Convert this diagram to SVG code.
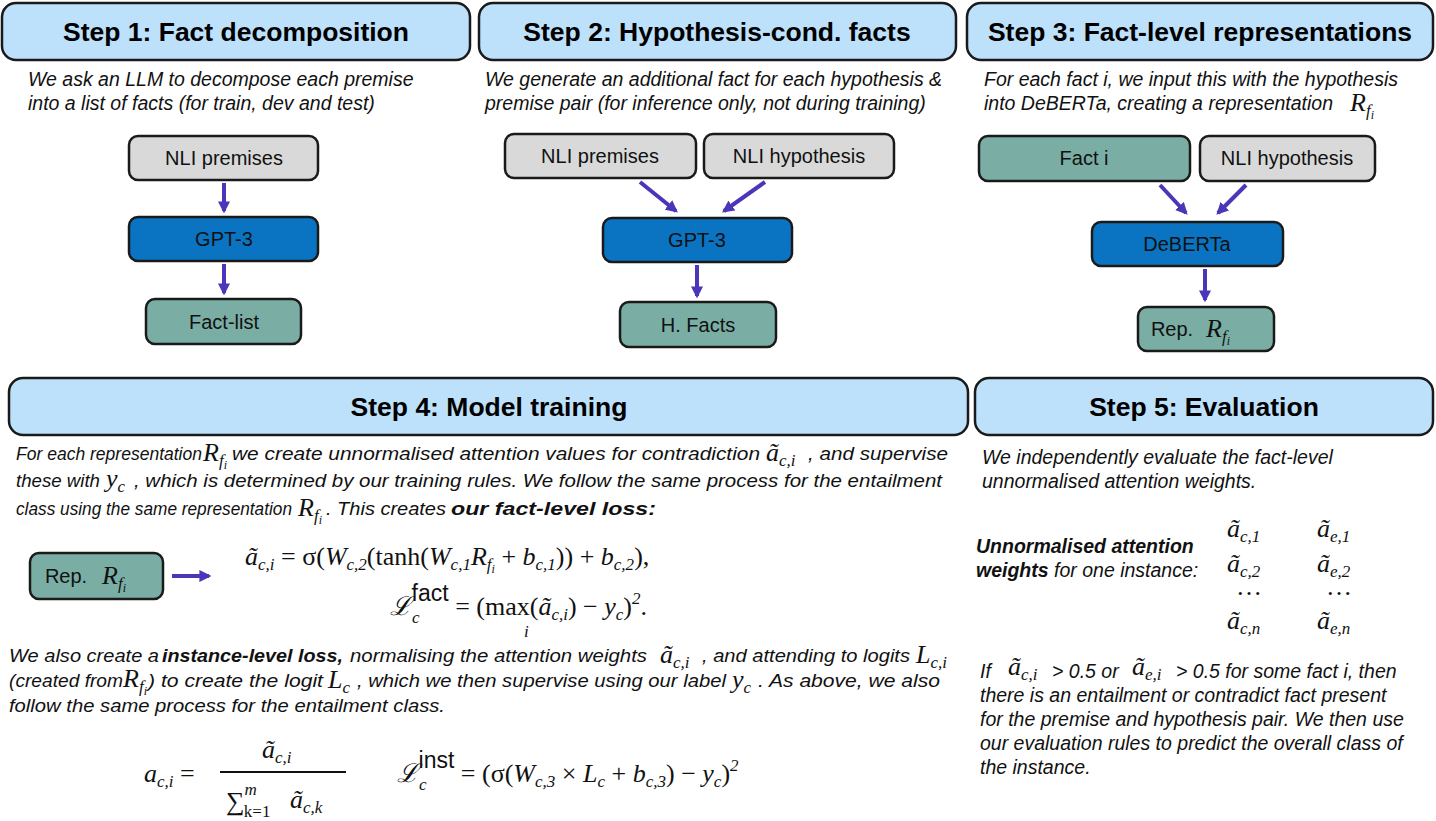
<svg xmlns="http://www.w3.org/2000/svg" width="1436" height="821" viewBox="0 0 1436 821">
<defs>
<style>
.hdr{fill:#bde0fb;stroke:#1a1a1a;stroke-width:2.5}
.ht{font-family:"Liberation Sans",Arial,sans-serif;font-weight:bold;font-size:26.5px;text-anchor:middle;fill:#000}
.gray{fill:#d9d9d9;stroke:#1a1a1a;stroke-width:2.5}
.blue{fill:#0a74c2;stroke:#1a1a1a;stroke-width:2.5}
.teal{fill:#7aaea4;stroke:#1a1a1a;stroke-width:2.5}
.nt{font-family:"Liberation Sans",Arial,sans-serif;font-size:20px;text-anchor:middle;fill:#111}
.it{font-family:"Liberation Sans",Arial,sans-serif;font-style:italic;font-size:19.5px;fill:#111}
.cn{font-family:"Liberation Sans",Arial,sans-serif;font-style:italic;font-size:18.5px;fill:#111}
.b{font-weight:bold}
.m{font-family:"Liberation Serif","Times New Roman",serif;font-style:italic;font-size:26px;fill:#111}
.mr{font-family:"Liberation Serif","Times New Roman",serif;font-style:normal;font-size:26px;fill:#111}
.s{font-size:17px}
.ss{font-size:12px}
.sf{font-family:"Liberation Sans",Arial,sans-serif;font-style:normal}
.conn{stroke:#4a36b8;stroke-width:4;fill:none}
</style>
<marker id="ah" viewBox="0 0 10 10" refX="8" refY="5" markerWidth="3" markerHeight="3" orient="auto"><path d="M0,0L10,5L0,10z" fill="#4a36b8"/></marker>
</defs>

<g id="step1">
<rect class="hdr" x="2" y="3" width="468" height="57" rx="14"/>
<text class="ht" x="236" y="41">Step 1: Fact decomposition</text>
<text class="it" x="28" y="86">We ask an LLM to decompose each premise</text>
<text class="it" x="28" y="110">into a list of facts (for train, dev and test)</text>
</g>
<g id="s1-premises"><rect class="gray" x="129" y="136" width="189" height="44" rx="9"/><text class="nt" x="224" y="165">NLI premises</text></g>
<g id="s1-gpt3"><rect class="blue" x="129" y="217" width="189" height="44" rx="9"/><text class="nt" x="224" y="246">GPT-3</text></g>
<g id="s1-factlist"><rect class="teal" x="146" y="299" width="155" height="45" rx="9"/><text class="nt" x="224" y="329">Fact-list</text></g>

<g id="step2">
<rect class="hdr" x="479" y="3" width="477" height="57" rx="14"/>
<text class="ht" x="717" y="41">Step 2: Hypothesis-cond. facts</text>
<text class="it" x="485" y="86">We generate an additional fact for each hypothesis &amp;</text>
<text class="it" x="485" y="110">premise pair (for inference only, not during training)</text>
</g>
<g id="s2-premises"><rect class="gray" x="505" y="134" width="191" height="44" rx="9"/><text class="nt" x="600" y="163">NLI premises</text></g>
<g id="s2-hyp"><rect class="gray" x="704" y="134" width="190" height="44" rx="9"/><text class="nt" x="799" y="163">NLI hypothesis</text></g>
<g id="s2-gpt3"><rect class="blue" x="603" y="218" width="189" height="44" rx="9"/><text class="nt" x="697" y="247">GPT-3</text></g>
<g id="s2-hfacts"><rect class="teal" x="620" y="302" width="156" height="45" rx="9"/><text class="nt" x="698" y="332">H. Facts</text></g>

<g id="step3">
<rect class="hdr" x="967" y="3" width="466" height="57" rx="14"/>
<text class="ht" x="1200" y="41">Step 3: Fact-level representations</text>
<text class="it" x="984" y="86">For each fact i, we input this with the hypothesis</text>
<text class="it" x="984" y="110">into DeBERTa, creating a representation</text>
<text class="m" x="1350" y="111">R<tspan class="s" dy="5">f</tspan><tspan class="ss" dy="3">i</tspan></text>
</g>
<g id="s3-fact"><rect class="teal" x="979" y="136" width="211" height="45" rx="9"/><text class="nt" x="1084" y="165">Fact i</text></g>
<g id="s3-hyp"><rect class="gray" x="1200" y="136" width="175" height="45" rx="9"/><text class="nt" x="1287" y="165">NLI hypothesis</text></g>
<g id="s3-deberta"><rect class="blue" x="1092" y="222" width="191" height="44" rx="9"/><text class="nt" x="1187" y="251">DeBERTa</text></g>
<g id="s3-rep"><rect class="teal" x="1138" y="307" width="136" height="44" rx="9"/><text class="nt" x="1172" y="336">Rep.</text><text class="m" x="1206" y="337">R<tspan class="s" dy="5">f</tspan><tspan class="ss" dy="3">i</tspan></text></g>

<g id="step4">
<rect class="hdr" x="9" y="378" width="959" height="57" rx="14"/>
<text class="ht" x="489" y="416">Step 4: Model training</text>
<text class="cn" x="16" y="460" textLength="186" lengthAdjust="spacingAndGlyphs">For each representation</text>
<text class="m" x="203" y="461">R<tspan class="s" dy="5">f</tspan><tspan class="ss" dy="3">i</tspan></text>
<text class="cn" x="232" y="460" textLength="528" lengthAdjust="spacingAndGlyphs">we create unnormalised attention values for contradiction</text>
<text class="m" x="766" y="461">ã<tspan class="s" dy="5">c,i</tspan></text>
<text class="cn" x="808" y="460" textLength="140" lengthAdjust="spacingAndGlyphs">, and supervise</text>
<text class="cn" x="16" y="487" textLength="84" lengthAdjust="spacingAndGlyphs">these with</text>
<text class="m" x="106" y="487">y<tspan class="s" dy="5">c</tspan></text>
<text class="cn" x="134" y="487" textLength="808" lengthAdjust="spacingAndGlyphs">, which is determined by our training rules. We follow the same process for the entailment</text>
<text class="cn" x="16" y="515" textLength="276" lengthAdjust="spacingAndGlyphs">class using the same representation</text>
<text class="m" x="298" y="516">R<tspan class="s" dy="5">f</tspan><tspan class="ss" dy="3">i</tspan></text>
<text class="cn" x="326" y="515" textLength="120" lengthAdjust="spacingAndGlyphs">.  This creates</text>
<text class="cn b" x="451" y="515" textLength="205" lengthAdjust="spacingAndGlyphs">our fact-level loss:</text>
</g>
<g id="s4-rep"><rect class="teal" x="30" y="553" width="133" height="46" rx="9"/><text class="nt" x="66" y="583">Rep.</text><text class="m" x="102" y="584">R<tspan class="s" dy="5">f</tspan><tspan class="ss" dy="3">i</tspan></text></g>
<g id="s4-eq1">
<text class="m" x="245" y="565">ã<tspan class="s" dy="5">c,i</tspan><tspan class="mr" dy="-5"> = σ(</tspan>W<tspan class="s" dy="5">c,2</tspan><tspan class="mr" dy="-5">(tanh(</tspan>W<tspan class="s" dy="5">c,1</tspan><tspan dy="-5">R</tspan><tspan class="s" dy="5">f</tspan><tspan class="ss" dy="3">i</tspan><tspan class="mr" dy="-8"> + </tspan>b<tspan class="s" dy="5">c,1</tspan><tspan class="mr" dy="-5">)) + </tspan>b<tspan class="s" dy="5">c,2</tspan><tspan class="mr" dy="-5">),</tspan></text>
<text class="m" x="390" y="615">ℒ<tspan class="s" dy="8">c</tspan><tspan class="sf" dx="-8" dy="-22" font-size="23">fact</tspan><tspan class="mr" dy="14"> = (max(</tspan>ã<tspan class="s" dy="5">c,i</tspan><tspan class="mr" dy="-5">) − </tspan>y<tspan class="s" dy="5">c</tspan><tspan class="mr" dy="-5">)</tspan><tspan class="s" dy="-11">2</tspan><tspan class="mr" dy="11">.</tspan></text>
<text class="m s" x="524" y="637">i</text>
</g>
<g id="s4-para">
<text class="cn" x="9" y="662" textLength="150" lengthAdjust="spacingAndGlyphs">We also create a</text>
<text class="cn b" x="162" y="662" textLength="181" lengthAdjust="spacingAndGlyphs">instance-level loss,</text>
<text class="cn" x="350" y="662" textLength="297" lengthAdjust="spacingAndGlyphs">normalising the attention weights</text>
<text class="m" x="660" y="663">ã<tspan class="s" dy="5">c,i</tspan></text>
<text class="cn" x="702" y="662" textLength="208" lengthAdjust="spacingAndGlyphs">, and attending to logits</text>
<text class="m" x="916" y="663">L<tspan class="s" dy="5">c,i</tspan></text>
<text class="cn" x="9" y="687" textLength="114" lengthAdjust="spacingAndGlyphs">(created from</text>
<text class="m" x="123" y="687">R<tspan class="s" dy="5">f</tspan><tspan class="ss" dy="3">i</tspan></text>
<text class="cn" x="148" y="687" textLength="175" lengthAdjust="spacingAndGlyphs">) to create the logit</text>
<text class="m" x="328" y="688">L<tspan class="s" dy="5">c</tspan></text>
<text class="cn" x="357" y="687" textLength="369" lengthAdjust="spacingAndGlyphs">, which we then supervise using our label</text>
<text class="m" x="732" y="688">y<tspan class="s" dy="5">c</tspan></text>
<text class="cn" x="758" y="687" textLength="182" lengthAdjust="spacingAndGlyphs">. As above, we also</text>
<text class="cn" x="9" y="712" textLength="436" lengthAdjust="spacingAndGlyphs">follow the same process for the entailment class.</text>
</g>
<g id="s4-eq2">
<text class="m" x="144" y="782">a<tspan class="s" dy="5">c,i</tspan><tspan class="mr" dy="-5"> =</tspan></text>
<text class="m" x="262" y="758">ã<tspan class="s" dy="5">c,i</tspan></text>
<line x1="220" y1="772" x2="346" y2="772" stroke="#111" stroke-width="1.8"/>
<text class="mr" x="226" y="810" font-size="30">∑<tspan class="m s" dy="-15">m</tspan><tspan class="mr s" dx="-13" dy="22">k=1</tspan></text>
<text class="m" x="290" y="808">ã<tspan class="s" dy="5">c,k</tspan></text>
<text class="m" x="397" y="782">ℒ<tspan class="s" dy="8">c</tspan><tspan class="sf" dx="-8" dy="-22" font-size="23">inst</tspan><tspan class="mr" dy="14"> = (σ(</tspan>W<tspan class="s" dy="5">c,3</tspan><tspan class="mr" dy="-5"> × </tspan>L<tspan class="s" dy="5">c</tspan><tspan class="mr" dy="-5"> + </tspan>b<tspan class="s" dy="5">c,3</tspan><tspan class="mr" dy="-5">) − </tspan>y<tspan class="s" dy="5">c</tspan><tspan class="mr" dy="-5">)</tspan><tspan class="s" dy="-11">2</tspan></text>
</g>

<g id="step5">
<rect class="hdr" x="975" y="378" width="458" height="57" rx="14"/>
<text class="ht" x="1204" y="416">Step 5: Evaluation</text>
<text class="it" x="982" y="464">We independently evaluate the fact-level</text>
<text class="it" x="982" y="488">unnormalised attention weights.</text>
<text class="it b" x="976" y="553">Unnormalised attention</text>
<text class="it" x="976" y="577"><tspan class="b">weights</tspan> for one instance:</text>
<g class="matrix">
<text class="m" x="1227" y="537">ã<tspan class="s" dy="5">c,1</tspan></text>
<text class="m" x="1317" y="537">ã<tspan class="s" dy="5">e,1</tspan></text>
<text class="m" x="1227" y="572">ã<tspan class="s" dy="5">c,2</tspan></text>
<text class="m" x="1317" y="572">ã<tspan class="s" dy="5">e,2</tspan></text>
<text class="mr" x="1236" y="595" font-size="18">…</text><text class="mr" x="1326" y="595" font-size="18">…</text>
<text class="m" x="1227" y="629">ã<tspan class="s" dy="5">c,n</tspan></text>
<text class="m" x="1317" y="629">ã<tspan class="s" dy="5">e,n</tspan></text>
</g>
<text class="it" x="980" y="678">If</text>
<text class="m" x="1008" y="675">ã<tspan class="s" dy="5">c,i</tspan></text>
<text class="it" x="1052" y="678">&gt; 0.5 or</text>
<text class="m" x="1132" y="675">ã<tspan class="s" dy="5">e,i</tspan></text>
<text class="it" x="1176" y="678">&gt; 0.5 for some fact i, then</text>
<text class="it" x="980" y="702">there is an entailment or contradict fact present</text>
<text class="it" x="980" y="726">for the premise and hypothesis pair. We then use</text>
<text class="it" x="980" y="750">our evaluation rules to predict the overall class of</text>
<text class="it" x="980" y="774">the instance.</text>
</g>

<g id="connectors">
<line class="conn" x1="224" y1="183" x2="224" y2="211" marker-end="url(#ah)"/>
<line class="conn" x1="224" y1="264" x2="224" y2="293" marker-end="url(#ah)"/>
<line class="conn" x1="640" y1="182" x2="676" y2="211" marker-end="url(#ah)"/>
<line class="conn" x1="765" y1="182" x2="724" y2="211" marker-end="url(#ah)"/>
<line class="conn" x1="697" y1="265" x2="697" y2="296" marker-end="url(#ah)"/>
<line class="conn" x1="1160" y1="185" x2="1186" y2="213" marker-end="url(#ah)"/>
<line class="conn" x1="1246" y1="185" x2="1218" y2="213" marker-end="url(#ah)"/>
<line class="conn" x1="1205" y1="269" x2="1205" y2="300" marker-end="url(#ah)"/>
<line class="conn" x1="172" y1="576" x2="209" y2="576" marker-end="url(#ah)"/>
</g>
</svg>
